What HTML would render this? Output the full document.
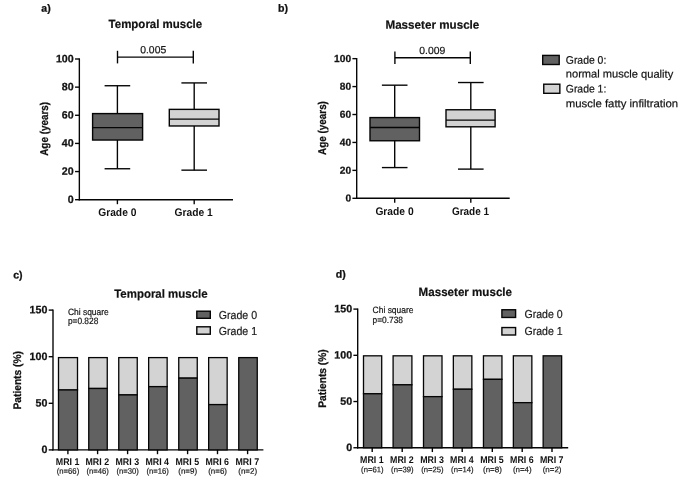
<!DOCTYPE html>
<html><head><meta charset="utf-8"><title>Figure</title>
<style>
html,body{margin:0;padding:0;background:#fff;}
body{width:685px;height:484px;overflow:hidden;}
svg{display:block;font-family:"Liberation Sans",sans-serif;text-rendering:geometricPrecision;}
</style></head><body>
<svg width="685" height="484" viewBox="0 0 685 484">
<rect x="0" y="0" width="685" height="484" fill="#ffffff"/>
<text x="41.3" y="11.7" font-size="10.6" font-weight="bold" text-anchor="start" fill="#111" transform="rotate(0.03 41.3 11.7)" stroke="#111" stroke-width="0.25">a)</text>
<text x="155.4" y="28.1" font-size="11.9" font-weight="bold" text-anchor="middle" fill="#111" textLength="93.6" lengthAdjust="spacingAndGlyphs" transform="rotate(0.03 155.4 28.1)" stroke="#111" stroke-width="0.2">Temporal muscle</text>
<line x1="79.35" y1="58.31" x2="79.35" y2="200.39" stroke="#050505" stroke-width="1.38"/>
<line x1="78.66" y1="199.7" x2="233" y2="199.7" stroke="#050505" stroke-width="1.38"/>
<line x1="75.05" y1="199.7" x2="79.35" y2="199.7" stroke="#050505" stroke-width="1.38"/>
<text x="73.75" y="202.89999999999998" font-size="10.7" font-weight="bold" text-anchor="end" fill="#111" transform="rotate(0.03 73.75 202.89999999999998)" stroke="#111" stroke-width="0.25">0</text>
<line x1="75.05" y1="171.56" x2="79.35" y2="171.56" stroke="#050505" stroke-width="1.38"/>
<text x="73.75" y="174.76" font-size="10.7" font-weight="bold" text-anchor="end" fill="#111" transform="rotate(0.03 73.75 174.76)" stroke="#111" stroke-width="0.25">20</text>
<line x1="75.05" y1="143.42" x2="79.35" y2="143.42" stroke="#050505" stroke-width="1.38"/>
<text x="73.75" y="146.61999999999998" font-size="10.7" font-weight="bold" text-anchor="end" fill="#111" transform="rotate(0.03 73.75 146.61999999999998)" stroke="#111" stroke-width="0.25">40</text>
<line x1="75.05" y1="115.28" x2="79.35" y2="115.28" stroke="#050505" stroke-width="1.38"/>
<text x="73.75" y="118.48" font-size="10.7" font-weight="bold" text-anchor="end" fill="#111" transform="rotate(0.03 73.75 118.48)" stroke="#111" stroke-width="0.25">60</text>
<line x1="75.05" y1="87.14" x2="79.35" y2="87.14" stroke="#050505" stroke-width="1.38"/>
<text x="73.75" y="90.34" font-size="10.7" font-weight="bold" text-anchor="end" fill="#111" transform="rotate(0.03 73.75 90.34)" stroke="#111" stroke-width="0.25">80</text>
<line x1="75.05" y1="59.0" x2="79.35" y2="59.0" stroke="#050505" stroke-width="1.38"/>
<text x="73.75" y="62.2" font-size="10.7" font-weight="bold" text-anchor="end" fill="#111" transform="rotate(0.03 73.75 62.2)" stroke="#111" stroke-width="0.25">100</text>
<text x="47.6" y="128.85" font-size="11.3" font-weight="bold" text-anchor="middle" fill="#111" textLength="53.8" lengthAdjust="spacingAndGlyphs" transform="rotate(-89.97 47.6 128.85)" stroke="#111" stroke-width="0.25">Age (years)</text>
<line x1="117.4" y1="85.733" x2="117.4" y2="168.74599999999998" stroke="#050505" stroke-width="1.38"/>
<line x1="104.60000000000001" y1="85.733" x2="130.20000000000002" y2="85.733" stroke="#050505" stroke-width="1.38"/>
<line x1="104.60000000000001" y1="168.74599999999998" x2="130.20000000000002" y2="168.74599999999998" stroke="#050505" stroke-width="1.38"/>
<rect x="92.60" y="113.59" width="50.00" height="26.45" fill="#616161" stroke="#050505" stroke-width="1.4"/>
<line x1="92.60000000000001" y1="127.66159999999999" x2="142.6" y2="127.66159999999999" stroke="#050505" stroke-width="1.3"/>
<line x1="117.4" y1="199.7" x2="117.4" y2="204.2" stroke="#050505" stroke-width="1.38"/>
<line x1="194.2" y1="82.91900000000001" x2="194.2" y2="170.153" stroke="#050505" stroke-width="1.38"/>
<line x1="181.39999999999998" y1="82.91900000000001" x2="207.0" y2="82.91900000000001" stroke="#050505" stroke-width="1.38"/>
<line x1="181.39999999999998" y1="170.153" x2="207.0" y2="170.153" stroke="#050505" stroke-width="1.38"/>
<rect x="169.30" y="109.37" width="49.70" height="16.60" fill="#d3d3d3" stroke="#050505" stroke-width="1.4"/>
<line x1="169.29999999999998" y1="119.2196" x2="219.0" y2="119.2196" stroke="#050505" stroke-width="1.3"/>
<line x1="194.2" y1="199.7" x2="194.2" y2="204.2" stroke="#050505" stroke-width="1.38"/>
<text x="117.3" y="216.4" font-size="11" font-weight="bold" text-anchor="middle" fill="#111" textLength="38.2" lengthAdjust="spacingAndGlyphs" transform="rotate(0.03 117.3 216.4)">Grade 0</text>
<text x="193.60000000000002" y="216.4" font-size="11" font-weight="bold" text-anchor="middle" fill="#111" textLength="38.2" lengthAdjust="spacingAndGlyphs" transform="rotate(0.03 193.60000000000002 216.4)">Grade 1</text>
<line x1="117.5" y1="57.1" x2="193.3" y2="57.1" stroke="#050505" stroke-width="1.38"/>
<line x1="117.5" y1="50.800000000000004" x2="117.5" y2="63.4" stroke="#050505" stroke-width="1.38"/>
<line x1="193.3" y1="50.800000000000004" x2="193.3" y2="63.4" stroke="#050505" stroke-width="1.38"/>
<text x="153.2" y="53.300000000000004" font-size="10.4" font-weight="normal" text-anchor="middle" fill="#111" transform="rotate(0.03 153.2 53.300000000000004)" stroke="#1a1a1a" stroke-width="0.2">0.005</text>
<text x="278.1" y="11.7" font-size="10.6" font-weight="bold" text-anchor="start" fill="#111" transform="rotate(0.03 278.1 11.7)" stroke="#111" stroke-width="0.25">b)</text>
<text x="432.4" y="28.8" font-size="11.9" font-weight="bold" text-anchor="middle" fill="#111" textLength="93.9" lengthAdjust="spacingAndGlyphs" transform="rotate(0.03 432.4 28.8)" stroke="#111" stroke-width="0.2">Masseter muscle</text>
<line x1="356.7" y1="57.96" x2="356.7" y2="198.99" stroke="#050505" stroke-width="1.38"/>
<line x1="356.01" y1="198.3" x2="509.7" y2="198.3" stroke="#050505" stroke-width="1.38"/>
<line x1="352.4" y1="198.3" x2="356.7" y2="198.3" stroke="#050505" stroke-width="1.38"/>
<text x="351.09999999999997" y="201.60000000000002" font-size="10.2" font-weight="bold" text-anchor="end" fill="#111" transform="rotate(0.03 351.09999999999997 201.60000000000002)" stroke="#111" stroke-width="0.25">0</text>
<line x1="352.4" y1="170.37" x2="356.7" y2="170.37" stroke="#050505" stroke-width="1.38"/>
<text x="351.09999999999997" y="173.67000000000002" font-size="10.2" font-weight="bold" text-anchor="end" fill="#111" transform="rotate(0.03 351.09999999999997 173.67000000000002)" stroke="#111" stroke-width="0.25">20</text>
<line x1="352.4" y1="142.44" x2="356.7" y2="142.44" stroke="#050505" stroke-width="1.38"/>
<text x="351.09999999999997" y="145.74" font-size="10.2" font-weight="bold" text-anchor="end" fill="#111" transform="rotate(0.03 351.09999999999997 145.74)" stroke="#111" stroke-width="0.25">40</text>
<line x1="352.4" y1="114.51" x2="356.7" y2="114.51" stroke="#050505" stroke-width="1.38"/>
<text x="351.09999999999997" y="117.81" font-size="10.2" font-weight="bold" text-anchor="end" fill="#111" transform="rotate(0.03 351.09999999999997 117.81)" stroke="#111" stroke-width="0.25">60</text>
<line x1="352.4" y1="86.58000000000001" x2="356.7" y2="86.58000000000001" stroke="#050505" stroke-width="1.38"/>
<text x="351.09999999999997" y="89.88000000000001" font-size="10.2" font-weight="bold" text-anchor="end" fill="#111" transform="rotate(0.03 351.09999999999997 89.88000000000001)" stroke="#111" stroke-width="0.25">80</text>
<line x1="352.4" y1="58.650000000000006" x2="356.7" y2="58.650000000000006" stroke="#050505" stroke-width="1.38"/>
<text x="351.09999999999997" y="61.95" font-size="10.2" font-weight="bold" text-anchor="end" fill="#111" transform="rotate(0.03 351.09999999999997 61.95)" stroke="#111" stroke-width="0.25">100</text>
<text x="325.9" y="127.975" font-size="11.3" font-weight="bold" text-anchor="middle" fill="#111" textLength="53.8" lengthAdjust="spacingAndGlyphs" transform="rotate(-89.97 325.9 127.975)" stroke="#111" stroke-width="0.25">Age (years)</text>
<line x1="394.7" y1="85.18350000000001" x2="394.7" y2="167.577" stroke="#050505" stroke-width="1.38"/>
<line x1="381.9" y1="85.18350000000001" x2="407.5" y2="85.18350000000001" stroke="#050505" stroke-width="1.38"/>
<line x1="381.9" y1="167.577" x2="407.5" y2="167.577" stroke="#050505" stroke-width="1.38"/>
<rect x="370.00" y="117.58" width="49.50" height="23.18" fill="#616161" stroke="#050505" stroke-width="1.4"/>
<line x1="370.0" y1="127.49745" x2="419.5" y2="127.49745" stroke="#050505" stroke-width="1.3"/>
<line x1="394.7" y1="198.3" x2="394.7" y2="202.8" stroke="#050505" stroke-width="1.38"/>
<line x1="470.8" y1="82.53014999999999" x2="470.8" y2="169.11315000000002" stroke="#050505" stroke-width="1.38"/>
<line x1="458.0" y1="82.53014999999999" x2="483.6" y2="82.53014999999999" stroke="#050505" stroke-width="1.38"/>
<line x1="458.0" y1="169.11315000000002" x2="483.6" y2="169.11315000000002" stroke="#050505" stroke-width="1.38"/>
<rect x="446.00" y="109.76" width="49.10" height="17.04" fill="#d3d3d3" stroke="#050505" stroke-width="1.4"/>
<line x1="446.0" y1="120.165825" x2="495.1" y2="120.165825" stroke="#050505" stroke-width="1.3"/>
<line x1="470.8" y1="198.3" x2="470.8" y2="202.8" stroke="#050505" stroke-width="1.38"/>
<text x="394.5" y="215.4" font-size="11" font-weight="bold" text-anchor="middle" fill="#111" textLength="38.2" lengthAdjust="spacingAndGlyphs" transform="rotate(0.03 394.5 215.4)">Grade 0</text>
<text x="470.5" y="215.4" font-size="11" font-weight="bold" text-anchor="middle" fill="#111" textLength="37.2" lengthAdjust="spacingAndGlyphs" transform="rotate(0.03 470.5 215.4)">Grade 1</text>
<line x1="394.9" y1="57.8" x2="470.3" y2="57.8" stroke="#050505" stroke-width="1.38"/>
<line x1="394.9" y1="51.5" x2="394.9" y2="64.1" stroke="#050505" stroke-width="1.38"/>
<line x1="470.3" y1="51.5" x2="470.3" y2="64.1" stroke="#050505" stroke-width="1.38"/>
<text x="432.3" y="54.1" font-size="10.4" font-weight="normal" text-anchor="middle" fill="#111" transform="rotate(0.03 432.3 54.1)" stroke="#1a1a1a" stroke-width="0.2">0.009</text>
<rect x="542.70" y="55.40" width="16.50" height="9.10" fill="#616161" stroke="#050505" stroke-width="1.4"/>
<rect x="543.75" y="84.20" width="16.10" height="9.10" fill="#d3d3d3" stroke="#050505" stroke-width="1.4"/>
<text x="565.8" y="63.8" font-size="11" font-weight="normal" text-anchor="start" fill="#111" textLength="40.5" lengthAdjust="spacingAndGlyphs" transform="rotate(0.03 565.8 63.8)" stroke="#1a1a1a" stroke-width="0.2">Grade 0:</text>
<text x="565.8" y="77.6" font-size="11" font-weight="normal" text-anchor="start" fill="#111" textLength="107.4" lengthAdjust="spacingAndGlyphs" transform="rotate(0.03 565.8 77.6)" stroke="#1a1a1a" stroke-width="0.2">normal muscle quality</text>
<text x="565.8" y="92.6" font-size="11" font-weight="normal" text-anchor="start" fill="#111" textLength="40.5" lengthAdjust="spacingAndGlyphs" transform="rotate(0.03 565.8 92.6)" stroke="#1a1a1a" stroke-width="0.2">Grade 1:</text>
<text x="565.8" y="107.2" font-size="11" font-weight="normal" text-anchor="start" fill="#111" textLength="112.4" lengthAdjust="spacingAndGlyphs" transform="rotate(0.03 565.8 107.2)" stroke="#1a1a1a" stroke-width="0.2">muscle fatty infiltration</text>
<text x="13.2" y="278.4" font-size="10.6" font-weight="bold" text-anchor="start" fill="#111" transform="rotate(0.03 13.2 278.4)" stroke="#111" stroke-width="0.25">c)</text>
<text x="160.9" y="297.8" font-size="11.9" font-weight="bold" text-anchor="middle" fill="#111" textLength="93.4" lengthAdjust="spacingAndGlyphs" transform="rotate(0.03 160.9 297.8)" stroke="#111" stroke-width="0.2">Temporal muscle</text>
<line x1="53.0" y1="309.41" x2="53.0" y2="450.59" stroke="#050505" stroke-width="1.38"/>
<line x1="52.31" y1="449.9" x2="263.4" y2="449.9" stroke="#050505" stroke-width="1.38"/>
<line x1="48.7" y1="449.9" x2="53.0" y2="449.9" stroke="#050505" stroke-width="1.38"/>
<text x="47.4" y="453.09999999999997" font-size="10.7" font-weight="bold" text-anchor="end" fill="#111" transform="rotate(0.03 47.4 453.09999999999997)" stroke="#111" stroke-width="0.25">0</text>
<line x1="48.7" y1="403.3" x2="53.0" y2="403.3" stroke="#050505" stroke-width="1.38"/>
<text x="47.4" y="406.5" font-size="10.7" font-weight="bold" text-anchor="end" fill="#111" transform="rotate(0.03 47.4 406.5)" stroke="#111" stroke-width="0.25">50</text>
<line x1="48.7" y1="356.7" x2="53.0" y2="356.7" stroke="#050505" stroke-width="1.38"/>
<text x="47.4" y="359.9" font-size="10.7" font-weight="bold" text-anchor="end" fill="#111" transform="rotate(0.03 47.4 359.9)" stroke="#111" stroke-width="0.25">100</text>
<line x1="48.7" y1="310.1" x2="53.0" y2="310.1" stroke="#050505" stroke-width="1.38"/>
<text x="47.4" y="313.3" font-size="10.7" font-weight="bold" text-anchor="end" fill="#111" transform="rotate(0.03 47.4 313.3)" stroke="#111" stroke-width="0.25">150</text>
<text x="20.7" y="380.29999999999995" font-size="11.0" font-weight="bold" text-anchor="middle" fill="#111" textLength="58.4" lengthAdjust="spacingAndGlyphs" transform="rotate(-89.97 20.7 380.29999999999995)" stroke="#111" stroke-width="0.25">Patients (%)</text>
<text x="67.9" y="314.55" font-size="9.1" font-weight="normal" text-anchor="start" fill="#111" textLength="40.9" lengthAdjust="spacingAndGlyphs" transform="rotate(0.03 67.9 314.55)" stroke="#1a1a1a" stroke-width="0.2">Chi square</text>
<text x="67.9" y="324.45" font-size="9.1" font-weight="normal" text-anchor="start" fill="#111" textLength="30.4" lengthAdjust="spacingAndGlyphs" transform="rotate(0.03 67.9 324.45)" stroke="#1a1a1a" stroke-width="0.2">p=0.828</text>
<rect x="58.50" y="357.60" width="19.00" height="32.37" fill="#d3d3d3" stroke="#050505" stroke-width="1.3"/>
<rect x="58.50" y="389.97" width="19.00" height="59.93" fill="#616161" stroke="#050505" stroke-width="1.3"/>
<line x1="67.89999999999999" y1="449.9" x2="67.89999999999999" y2="454.2" stroke="#050505" stroke-width="1.38"/>
<text x="67.6" y="464.8" font-size="9.7" font-weight="bold" text-anchor="middle" fill="#111" textLength="23.6" lengthAdjust="spacingAndGlyphs" transform="rotate(0.03 67.6 464.8)">MRI 1</text>
<text x="68.0" y="473.8" font-size="8.0" font-weight="normal" text-anchor="middle" fill="#1a1a1a" textLength="22.4" lengthAdjust="spacingAndGlyphs" transform="rotate(0.03 68.0 473.8)" stroke="#1a1a1a" stroke-width="0.2">(n=66)</text>
<rect x="88.75" y="357.60" width="18.50" height="30.88" fill="#d3d3d3" stroke="#050505" stroke-width="1.3"/>
<rect x="88.75" y="388.48" width="18.50" height="61.42" fill="#616161" stroke="#050505" stroke-width="1.3"/>
<line x1="97.6" y1="449.9" x2="97.6" y2="454.2" stroke="#050505" stroke-width="1.38"/>
<text x="97.3" y="464.8" font-size="9.7" font-weight="bold" text-anchor="middle" fill="#111" textLength="23.6" lengthAdjust="spacingAndGlyphs" transform="rotate(0.03 97.3 464.8)">MRI 2</text>
<text x="97.7" y="473.8" font-size="8.0" font-weight="normal" text-anchor="middle" fill="#1a1a1a" textLength="22.4" lengthAdjust="spacingAndGlyphs" transform="rotate(0.03 97.7 473.8)" stroke="#1a1a1a" stroke-width="0.2">(n=46)</text>
<rect x="118.75" y="357.60" width="18.50" height="37.31" fill="#d3d3d3" stroke="#050505" stroke-width="1.3"/>
<rect x="118.75" y="394.91" width="18.50" height="54.99" fill="#616161" stroke="#050505" stroke-width="1.3"/>
<line x1="127.6" y1="449.9" x2="127.6" y2="454.2" stroke="#050505" stroke-width="1.38"/>
<text x="127.3" y="464.8" font-size="9.7" font-weight="bold" text-anchor="middle" fill="#111" textLength="23.6" lengthAdjust="spacingAndGlyphs" transform="rotate(0.03 127.3 464.8)">MRI 3</text>
<text x="127.7" y="473.8" font-size="8.0" font-weight="normal" text-anchor="middle" fill="#1a1a1a" textLength="22.4" lengthAdjust="spacingAndGlyphs" transform="rotate(0.03 127.7 473.8)" stroke="#1a1a1a" stroke-width="0.2">(n=30)</text>
<rect x="148.65" y="357.60" width="18.50" height="29.02" fill="#d3d3d3" stroke="#050505" stroke-width="1.3"/>
<rect x="148.65" y="386.62" width="18.50" height="63.28" fill="#616161" stroke="#050505" stroke-width="1.3"/>
<line x1="157.5" y1="449.9" x2="157.5" y2="454.2" stroke="#050505" stroke-width="1.38"/>
<text x="157.20000000000002" y="464.8" font-size="9.7" font-weight="bold" text-anchor="middle" fill="#111" textLength="23.6" lengthAdjust="spacingAndGlyphs" transform="rotate(0.03 157.20000000000002 464.8)">MRI 4</text>
<text x="157.6" y="473.8" font-size="8.0" font-weight="normal" text-anchor="middle" fill="#1a1a1a" textLength="22.4" lengthAdjust="spacingAndGlyphs" transform="rotate(0.03 157.6 473.8)" stroke="#1a1a1a" stroke-width="0.2">(n=16)</text>
<rect x="178.75" y="357.60" width="18.50" height="20.54" fill="#d3d3d3" stroke="#050505" stroke-width="1.3"/>
<rect x="178.75" y="378.14" width="18.50" height="71.76" fill="#616161" stroke="#050505" stroke-width="1.3"/>
<line x1="187.6" y1="449.9" x2="187.6" y2="454.2" stroke="#050505" stroke-width="1.38"/>
<text x="187.3" y="464.8" font-size="9.7" font-weight="bold" text-anchor="middle" fill="#111" textLength="23.6" lengthAdjust="spacingAndGlyphs" transform="rotate(0.03 187.3 464.8)">MRI 5</text>
<text x="187.7" y="473.8" font-size="8.0" font-weight="normal" text-anchor="middle" fill="#1a1a1a" textLength="18.8" lengthAdjust="spacingAndGlyphs" transform="rotate(0.03 187.7 473.8)" stroke="#1a1a1a" stroke-width="0.2">(n=9)</text>
<rect x="208.65" y="357.60" width="18.50" height="47.00" fill="#d3d3d3" stroke="#050505" stroke-width="1.3"/>
<rect x="208.65" y="404.60" width="18.50" height="45.30" fill="#616161" stroke="#050505" stroke-width="1.3"/>
<line x1="217.5" y1="449.9" x2="217.5" y2="454.2" stroke="#050505" stroke-width="1.38"/>
<text x="217.20000000000002" y="464.8" font-size="9.7" font-weight="bold" text-anchor="middle" fill="#111" textLength="23.6" lengthAdjust="spacingAndGlyphs" transform="rotate(0.03 217.20000000000002 464.8)">MRI 6</text>
<text x="217.6" y="473.8" font-size="8.0" font-weight="normal" text-anchor="middle" fill="#1a1a1a" textLength="18.8" lengthAdjust="spacingAndGlyphs" transform="rotate(0.03 217.6 473.8)" stroke="#1a1a1a" stroke-width="0.2">(n=6)</text>
<rect x="238.75" y="357.60" width="18.50" height="92.30" fill="#616161" stroke="#050505" stroke-width="1.3"/>
<line x1="247.6" y1="449.9" x2="247.6" y2="454.2" stroke="#050505" stroke-width="1.38"/>
<text x="247.3" y="464.8" font-size="9.7" font-weight="bold" text-anchor="middle" fill="#111" textLength="23.6" lengthAdjust="spacingAndGlyphs" transform="rotate(0.03 247.3 464.8)">MRI 7</text>
<text x="247.7" y="473.8" font-size="8.0" font-weight="normal" text-anchor="middle" fill="#1a1a1a" textLength="18.8" lengthAdjust="spacingAndGlyphs" transform="rotate(0.03 247.7 473.8)" stroke="#1a1a1a" stroke-width="0.2">(n=2)</text>
<rect x="196.80" y="311.20" width="13.50" height="7.10" fill="#616161" stroke="#050505" stroke-width="1.4"/>
<rect x="196.80" y="326.80" width="13.50" height="7.40" fill="#d3d3d3" stroke="#050505" stroke-width="1.4"/>
<text x="218.8" y="318.7" font-size="11.5" font-weight="normal" text-anchor="start" fill="#1a1a1a" textLength="38.3" lengthAdjust="spacingAndGlyphs" transform="rotate(0.03 218.8 318.7)" stroke="#1a1a1a" stroke-width="0.2">Grade 0</text>
<text x="218.8" y="334.7" font-size="11.5" font-weight="normal" text-anchor="start" fill="#1a1a1a" textLength="38.3" lengthAdjust="spacingAndGlyphs" transform="rotate(0.03 218.8 334.7)" stroke="#1a1a1a" stroke-width="0.2">Grade 1</text>
<text x="335.7" y="277.7" font-size="10.6" font-weight="bold" text-anchor="start" fill="#111" transform="rotate(0.03 335.7 277.7)" stroke="#111" stroke-width="0.25">d)</text>
<text x="465.3" y="296.0" font-size="11.9" font-weight="bold" text-anchor="middle" fill="#111" textLength="93.4" lengthAdjust="spacingAndGlyphs" transform="rotate(0.03 465.3 296.0)" stroke="#111" stroke-width="0.2">Masseter muscle</text>
<line x1="357.7" y1="308.41" x2="357.7" y2="448.44" stroke="#050505" stroke-width="1.38"/>
<line x1="357.01" y1="447.75" x2="568.2" y2="447.75" stroke="#050505" stroke-width="1.38"/>
<line x1="353.4" y1="447.75" x2="357.7" y2="447.75" stroke="#050505" stroke-width="1.38"/>
<text x="352.09999999999997" y="450.95" font-size="10.7" font-weight="bold" text-anchor="end" fill="#111" transform="rotate(0.03 352.09999999999997 450.95)" stroke="#111" stroke-width="0.25">0</text>
<line x1="353.4" y1="401.53333333333336" x2="357.7" y2="401.53333333333336" stroke="#050505" stroke-width="1.38"/>
<text x="352.09999999999997" y="404.73333333333335" font-size="10.7" font-weight="bold" text-anchor="end" fill="#111" transform="rotate(0.03 352.09999999999997 404.73333333333335)" stroke="#111" stroke-width="0.25">50</text>
<line x1="353.4" y1="355.31666666666666" x2="357.7" y2="355.31666666666666" stroke="#050505" stroke-width="1.38"/>
<text x="352.09999999999997" y="358.51666666666665" font-size="10.7" font-weight="bold" text-anchor="end" fill="#111" transform="rotate(0.03 352.09999999999997 358.51666666666665)" stroke="#111" stroke-width="0.25">100</text>
<line x1="353.4" y1="309.1" x2="357.7" y2="309.1" stroke="#050505" stroke-width="1.38"/>
<text x="352.09999999999997" y="312.3" font-size="10.7" font-weight="bold" text-anchor="end" fill="#111" transform="rotate(0.03 352.09999999999997 312.3)" stroke="#111" stroke-width="0.25">150</text>
<text x="326.0" y="378.5333333333333" font-size="11.0" font-weight="bold" text-anchor="middle" fill="#111" textLength="58.4" lengthAdjust="spacingAndGlyphs" transform="rotate(-89.97 326.0 378.5333333333333)" stroke="#111" stroke-width="0.25">Patients (%)</text>
<text x="372.6" y="312.85" font-size="9.1" font-weight="normal" text-anchor="start" fill="#111" textLength="40.9" lengthAdjust="spacingAndGlyphs" transform="rotate(0.03 372.6 312.85)" stroke="#1a1a1a" stroke-width="0.2">Chi square</text>
<text x="372.6" y="322.75" font-size="9.1" font-weight="normal" text-anchor="start" fill="#111" textLength="30.4" lengthAdjust="spacingAndGlyphs" transform="rotate(0.03 372.6 322.75)" stroke="#1a1a1a" stroke-width="0.2">p=0.738</text>
<rect x="363.50" y="355.82" width="18.20" height="37.95" fill="#d3d3d3" stroke="#050505" stroke-width="1.3"/>
<rect x="363.50" y="393.77" width="18.20" height="53.98" fill="#616161" stroke="#050505" stroke-width="1.3"/>
<line x1="372.20000000000005" y1="447.75" x2="372.20000000000005" y2="452.05" stroke="#050505" stroke-width="1.38"/>
<text x="371.90000000000003" y="463.1" font-size="9.7" font-weight="bold" text-anchor="middle" fill="#111" textLength="23.6" lengthAdjust="spacingAndGlyphs" transform="rotate(0.03 371.90000000000003 463.1)">MRI 1</text>
<text x="372.3" y="472.2" font-size="8.0" font-weight="normal" text-anchor="middle" fill="#1a1a1a" textLength="22.4" lengthAdjust="spacingAndGlyphs" transform="rotate(0.03 372.3 472.2)" stroke="#1a1a1a" stroke-width="0.2">(n=61)</text>
<rect x="393.10" y="355.82" width="18.80" height="28.99" fill="#d3d3d3" stroke="#050505" stroke-width="1.3"/>
<rect x="393.10" y="384.80" width="18.80" height="62.95" fill="#616161" stroke="#050505" stroke-width="1.3"/>
<line x1="402.20000000000005" y1="447.75" x2="402.20000000000005" y2="452.05" stroke="#050505" stroke-width="1.38"/>
<text x="401.90000000000003" y="463.1" font-size="9.7" font-weight="bold" text-anchor="middle" fill="#111" textLength="23.6" lengthAdjust="spacingAndGlyphs" transform="rotate(0.03 401.90000000000003 463.1)">MRI 2</text>
<text x="402.3" y="472.2" font-size="8.0" font-weight="normal" text-anchor="middle" fill="#1a1a1a" textLength="22.4" lengthAdjust="spacingAndGlyphs" transform="rotate(0.03 402.3 472.2)" stroke="#1a1a1a" stroke-width="0.2">(n=39)</text>
<rect x="423.50" y="355.82" width="18.50" height="40.82" fill="#d3d3d3" stroke="#050505" stroke-width="1.3"/>
<rect x="423.50" y="396.63" width="18.50" height="51.12" fill="#616161" stroke="#050505" stroke-width="1.3"/>
<line x1="432.35" y1="447.75" x2="432.35" y2="452.05" stroke="#050505" stroke-width="1.38"/>
<text x="432.05" y="463.1" font-size="9.7" font-weight="bold" text-anchor="middle" fill="#111" textLength="23.6" lengthAdjust="spacingAndGlyphs" transform="rotate(0.03 432.05 463.1)">MRI 3</text>
<text x="432.45" y="472.2" font-size="8.0" font-weight="normal" text-anchor="middle" fill="#1a1a1a" textLength="22.4" lengthAdjust="spacingAndGlyphs" transform="rotate(0.03 432.45 472.2)" stroke="#1a1a1a" stroke-width="0.2">(n=25)</text>
<rect x="453.35" y="355.82" width="18.50" height="33.42" fill="#d3d3d3" stroke="#050505" stroke-width="1.3"/>
<rect x="453.35" y="389.24" width="18.50" height="58.51" fill="#616161" stroke="#050505" stroke-width="1.3"/>
<line x1="462.20000000000005" y1="447.75" x2="462.20000000000005" y2="452.05" stroke="#050505" stroke-width="1.38"/>
<text x="461.90000000000003" y="463.1" font-size="9.7" font-weight="bold" text-anchor="middle" fill="#111" textLength="23.6" lengthAdjust="spacingAndGlyphs" transform="rotate(0.03 461.90000000000003 463.1)">MRI 4</text>
<text x="462.3" y="472.2" font-size="8.0" font-weight="normal" text-anchor="middle" fill="#1a1a1a" textLength="22.4" lengthAdjust="spacingAndGlyphs" transform="rotate(0.03 462.3 472.2)" stroke="#1a1a1a" stroke-width="0.2">(n=14)</text>
<rect x="483.45" y="355.82" width="18.50" height="23.53" fill="#d3d3d3" stroke="#050505" stroke-width="1.3"/>
<rect x="483.45" y="379.35" width="18.50" height="68.40" fill="#616161" stroke="#050505" stroke-width="1.3"/>
<line x1="492.3" y1="447.75" x2="492.3" y2="452.05" stroke="#050505" stroke-width="1.38"/>
<text x="492.0" y="463.1" font-size="9.7" font-weight="bold" text-anchor="middle" fill="#111" textLength="23.6" lengthAdjust="spacingAndGlyphs" transform="rotate(0.03 492.0 463.1)">MRI 5</text>
<text x="492.4" y="472.2" font-size="8.0" font-weight="normal" text-anchor="middle" fill="#1a1a1a" textLength="18.8" lengthAdjust="spacingAndGlyphs" transform="rotate(0.03 492.4 472.2)" stroke="#1a1a1a" stroke-width="0.2">(n=8)</text>
<rect x="513.35" y="355.82" width="18.50" height="46.83" fill="#d3d3d3" stroke="#050505" stroke-width="1.3"/>
<rect x="513.35" y="402.64" width="18.50" height="45.11" fill="#616161" stroke="#050505" stroke-width="1.3"/>
<line x1="522.2" y1="447.75" x2="522.2" y2="452.05" stroke="#050505" stroke-width="1.38"/>
<text x="521.9" y="463.1" font-size="9.7" font-weight="bold" text-anchor="middle" fill="#111" textLength="23.6" lengthAdjust="spacingAndGlyphs" transform="rotate(0.03 521.9 463.1)">MRI 6</text>
<text x="522.3000000000001" y="472.2" font-size="8.0" font-weight="normal" text-anchor="middle" fill="#1a1a1a" textLength="18.8" lengthAdjust="spacingAndGlyphs" transform="rotate(0.03 522.3000000000001 472.2)" stroke="#1a1a1a" stroke-width="0.2">(n=4)</text>
<rect x="543.15" y="355.82" width="18.50" height="91.93" fill="#616161" stroke="#050505" stroke-width="1.3"/>
<line x1="552.0" y1="447.75" x2="552.0" y2="452.05" stroke="#050505" stroke-width="1.38"/>
<text x="551.6999999999999" y="463.1" font-size="9.7" font-weight="bold" text-anchor="middle" fill="#111" textLength="23.6" lengthAdjust="spacingAndGlyphs" transform="rotate(0.03 551.6999999999999 463.1)">MRI 7</text>
<text x="552.1" y="472.2" font-size="8.0" font-weight="normal" text-anchor="middle" fill="#1a1a1a" textLength="18.8" lengthAdjust="spacingAndGlyphs" transform="rotate(0.03 552.1 472.2)" stroke="#1a1a1a" stroke-width="0.2">(n=2)</text>
<rect x="501.90" y="309.75" width="13.70" height="7.70" fill="#616161" stroke="#050505" stroke-width="1.4"/>
<rect x="501.90" y="327.55" width="13.70" height="7.45" fill="#d3d3d3" stroke="#050505" stroke-width="1.4"/>
<text x="524.5" y="317.7" font-size="11.5" font-weight="normal" text-anchor="start" fill="#1a1a1a" textLength="38.2" lengthAdjust="spacingAndGlyphs" transform="rotate(0.03 524.5 317.7)" stroke="#1a1a1a" stroke-width="0.2">Grade 0</text>
<text x="524.5" y="335.1" font-size="11.5" font-weight="normal" text-anchor="start" fill="#1a1a1a" textLength="38.2" lengthAdjust="spacingAndGlyphs" transform="rotate(0.03 524.5 335.1)" stroke="#1a1a1a" stroke-width="0.2">Grade 1</text>
</svg>
</body></html>
